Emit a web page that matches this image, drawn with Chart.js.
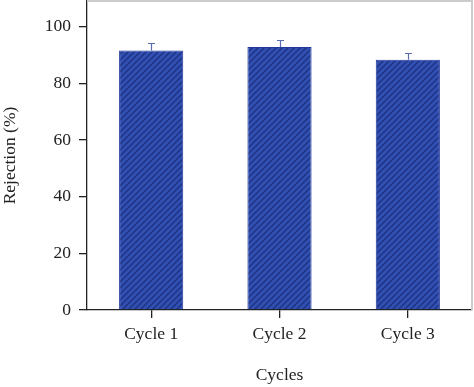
<!DOCTYPE html>
<html>
<head>
<meta charset="utf-8">
<script src="https://cdn.jsdelivr.net/npm/chart.js@4"></script>
<style>
html,body{margin:0;padding:0;background:#fff;}
canvas{display:block;}
</style>
</head>
<body>
<canvas id="c" width="474" height="387"></canvas>
<script>
const categories = ["Cycle 1", "Cycle 2", "Cycle 3"];
const rejection = [91.5, 92.8, 88.3];
const errors = [2.8, 2.5, 2.4];
const yTicks = [0, 20, 40, 60, 80, 100];

function makePattern() {
  const s = 6;
  const pc = document.createElement('canvas');
  pc.width = s; pc.height = s;
  const g = pc.getContext('2d');
  g.fillStyle = '#3150b4';
  g.fillRect(0, 0, s, s);
  g.strokeStyle = '#1f3382';
  g.lineWidth = 1.5;
  g.beginPath();
  g.moveTo(-1, s + 1); g.lineTo(s + 1, -1);
  g.moveTo(-1, 1); g.lineTo(1, -1);
  g.moveTo(s - 1, s + 1); g.lineTo(s + 1, s - 1);
  g.stroke();
  return g.createPattern(pc, 'repeat');
}

const errorBars = {
  id: 'errorBars',
  afterDatasetsDraw(chart) {
    const ctx = chart.ctx;
    const meta = chart.getDatasetMeta(0);
    const y = chart.scales.y;
    ctx.save();
    ctx.strokeStyle = '#5a6cb4';
    ctx.lineWidth = 1.2;
    meta.data.forEach((bar, i) => {
      const x = Math.round(bar.x) + 0.5;
      const yb = y.getPixelForValue(rejection[i]);
      const yt = Math.round(y.getPixelForValue(rejection[i] + errors[i])) + 0.5;
      ctx.beginPath();
      ctx.moveTo(x, yb); ctx.lineTo(x, yt);
      ctx.moveTo(x - 3.5, yt); ctx.lineTo(x + 3.5, yt);
      ctx.stroke();
    });
    ctx.restore();
  }
};

const frame = {
  id: 'frame',
  beforeDatasetsDraw(chart) {
    const a = chart.chartArea;
    const ctx = chart.ctx;
    ctx.save();
    ctx.strokeStyle = '#cccccc';
    ctx.lineWidth = 2;
    ctx.beginPath();
    ctx.moveTo(a.left, a.top);
    ctx.lineTo(a.right, a.top);
    ctx.lineTo(a.right, a.bottom);
    ctx.stroke();
    ctx.restore();
  }
};

const font = { family: "'Liberation Serif', 'Times New Roman', serif", size: 17.5 };

new Chart(document.getElementById('c'), {
  type: 'bar',
  data: {
    labels: categories,
    datasets: [{
      data: rejection,
      backgroundColor: makePattern(),
      borderColor: '#23399a',
      borderWidth: 1,
      categoryPercentage: 0.5,
      barPercentage: 1.0
    }]
  },
  options: {
    responsive: false,
    animation: false,
    devicePixelRatio: 1,
    layout: { padding: { top: 1, right: 2, left: 0, bottom: 0 } },
    plugins: { legend: { display: false }, tooltip: { enabled: false } },
    scales: {
      x: {
        offset: true,
        grid: { display: true, drawOnChartArea: false, offset: false, color: '#222', tickLength: 8, lineWidth: 1.3 },
        border: { display: true, color: '#222', width: 1.3 },
        ticks: { font: font, color: '#222', padding: 6, maxRotation: 0 },
        title: { display: true, text: 'Cycles', font: font, color: '#222', padding: { top: 0, bottom: 1 } },
        afterFit(s) { s.height = 77; s.paddingLeft = 0; s.paddingRight = 0; }
      },
      y: {
        min: 0,
        max: 109,
        afterBuildTicks(s) { s.ticks = yTicks.map(v => ({ value: v })); },
        grid: { display: true, drawOnChartArea: false, color: '#222', tickLength: 8, lineWidth: 1.3 },
        border: { display: true, color: '#222', width: 1.3 },
        ticks: { font: font, color: '#222', padding: 8 },
        title: { display: true, text: 'Rejection (%)', font: font, color: '#222', padding: { top: 0, bottom: 0 } },
        afterFit(s) { s.width = 87; s.paddingTop = 0; s.paddingBottom = 0; }
      }
    }
  },
  plugins: [frame, errorBars]
});
</script>
</body>
</html>
